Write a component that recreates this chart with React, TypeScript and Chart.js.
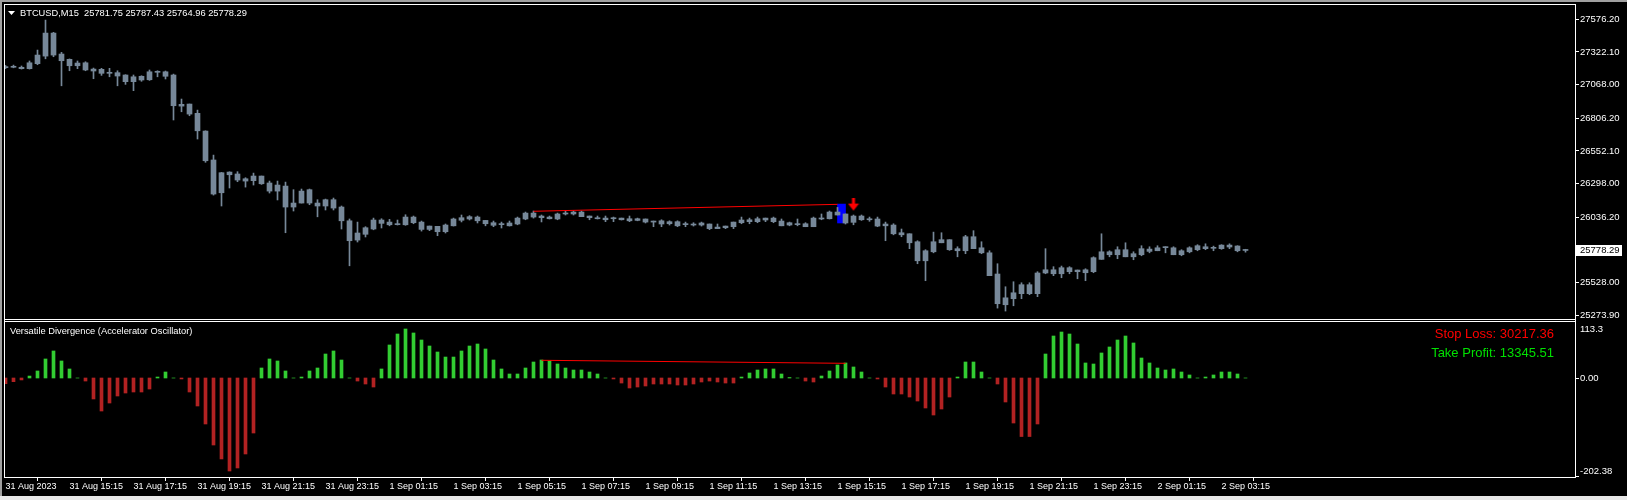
import React, { useEffect, useRef } from "react";
import { Chart, registerables } from "chart.js";

Chart.register(...registerables);

// ---------------- data ----------------
const openP = [
  27200, 27206, 27203, 27192, 27231, 27290, 27469, 27306, 27265, 27215,
  27238, 27189, 27187, 27156, 27161, 27143, 27091, 27133, 27106, 27164,
  27168, 27143, 26901, 26917, 26845, 26707, 26482, 26227, 26367, 26373,
  26336, 26321, 26357, 26303, 26240, 26279, 26116, 26147, 26251, 26147,
  26124, 26173, 26116, 26009, 25859, 25904, 25945, 26015, 25999, 25979,
  25978, 26038, 25999, 25942, 25966, 25924, 25970, 26013, 26023, 26038,
  26012, 25994, 25981, 25970, 25984, 26023, 26069, 26046, 26038, 26023,
  26062, 26062, 26077, 26046, 26030, 26030, 26030, 26030, 26025, 26025,
  26023, 26007, 26009, 26002, 26002, 25984, 25981, 25992, 25984, 25960,
  25968, 25963, 25994, 26002, 26002, 26030, 26030, 26007, 25994, 25981,
  25986, 25963, 26030, 26025, 26077, 26062, 26046, 26046, 26023, 26023,
  25984, 25976, 25916, 25908, 25846, 25698, 25768, 25838, 25862, 25792,
  25776, 25885, 25799, 25760, 25595, 25356, 25403, 25442, 25512, 25442,
  25603, 25628, 25597, 25644, 25626, 25605, 25613, 25709, 25768, 25745,
  25784, 25729, 25745, 25789, 25776, 25802, 25799, 25745, 25768, 25784,
  25807, 25797, 25792, 25820, 25813, 25781.75,
];
const highP = [
  27217, 27220, 27213, 27252, 27337, 27570, 27475, 27319, 27268, 27252,
  27246, 27197, 27195, 27195, 27176, 27145, 27143, 27137, 27182, 27176,
  27174, 27150, 26956, 26917, 26870, 26709, 26520, 26385, 26390, 26391,
  26344, 26380, 26357, 26318, 26318, 26310, 26251, 26256, 26256, 26173,
  26178, 26186, 26124, 26023, 25999, 25963, 26030, 26025, 26020, 26015,
  26056, 26046, 26007, 25968, 25966, 25984, 26030, 26054, 26049, 26046,
  26012, 26007, 25999, 26007, 26038, 26077, 26085, 26054, 26046, 26069,
  26085, 26085, 26085, 26046, 26046, 26046, 26038, 26030, 26046, 26030,
  26023, 26007, 26017, 26009, 26009, 25999, 25994, 25999, 25984, 25984,
  25968, 25999, 26038, 26030, 26038, 26030, 26038, 26023, 25999, 26023,
  25994, 26038, 26062, 26085, 26113, 26062, 26054, 26054, 26038, 26038,
  25999, 25986, 25945, 25908, 25854, 25784, 25921, 25916, 25862, 25807,
  25896, 25932, 25846, 25776, 25675, 25496, 25535, 25527, 25527, 25613,
  25792, 25652, 25657, 25652, 25626, 25636, 25729, 25908, 25776, 25807,
  25838, 25768, 25815, 25807, 25815, 25807, 25807, 25784, 25807, 25823,
  25830, 25812, 25823, 25830, 25815, 25787.43,
];
const lowP = [
  27193, 27199, 27189, 27189, 27223, 27269, 27285, 27059, 27176, 27192,
  27176, 27114, 27140, 27129, 27059, 27070, 27021, 27094, 27101, 27129,
  27112, 26793, 26857, 26826, 26645, 26464, 26209, 26124, 26264, 26313,
  26271, 26287, 26292, 26225, 26171, 25916, 26085, 26147, 26134, 26040,
  26093, 26093, 25945, 25659, 25844, 25883, 25939, 25953, 25970, 25976,
  25974, 25986, 25929, 25932, 25893, 25914, 25968, 26000, 26015, 25992,
  25970, 25963, 25953, 25968, 25978, 26017, 26030, 26000, 26023, 26017,
  26054, 26054, 26041, 26017, 26023, 26002, 26002, 26015, 26002, 26009,
  25992, 25963, 25963, 25976, 25963, 25963, 25968, 25968, 25940, 25948,
  25948, 25948, 25986, 25986, 25994, 26002, 25994, 25970, 25970, 25970,
  25963, 25963, 26017, 26023, 26054, 25984, 25978, 26012, 26005, 25963,
  25854, 25900, 25885, 25792, 25675, 25543, 25760, 25838, 25779, 25729,
  25753, 25792, 25753, 25582, 25330, 25307, 25348, 25403, 25434, 25419,
  25597, 25582, 25566, 25597, 25558, 25543, 25605, 25709, 25729, 25714,
  25729, 25706, 25737, 25760, 25776, 25760, 25745, 25737, 25760, 25776,
  25784, 25776, 25787, 25792, 25768, 25764.96,
];
const closeP = [
  27208, 27203, 27192, 27238, 27298, 27469, 27298, 27254, 27215, 27236,
  27182, 27174, 27156, 27164, 27135, 27091, 27129, 27104, 27168, 27171,
  27133, 26904, 26915, 26839, 26709, 26476, 26217, 26383, 26388, 26326,
  26318, 26357, 26297, 26240, 26287, 26116, 26147, 26240, 26147, 26124,
  26173, 26108, 26009, 25854, 25914, 25955, 26015, 25989, 25978, 25984,
  26038, 25994, 25942, 25968, 25924, 25976, 26023, 26033, 26041, 26009,
  25986, 25974, 25979, 25992, 26030, 26069, 26038, 26033, 26025, 26062,
  26069, 26077, 26041, 26033, 26025, 26017, 26025, 26017, 26009, 26012,
  25999, 25999, 25984, 25986, 25970, 25979, 25976, 25976, 25948, 25948,
  25955, 25999, 26015, 26017, 26025, 26015, 26002, 25970, 25976, 25979,
  25963, 26030, 26023, 26077, 26054, 25992, 25997, 26017, 26017, 25968,
  25970, 25908, 25900, 25838, 25698, 25776, 25846, 25862, 25784, 25776,
  25885, 25792, 25760, 25582, 25364, 25410, 25449, 25512, 25442, 25603,
  25628, 25597, 25644, 25613, 25613, 25628, 25722, 25768, 25745, 25784,
  25729, 25753, 25792, 25771, 25799, 25800, 25745, 25776, 25799, 25815,
  25792, 25795, 25820, 25805, 25776, 25778.29,
];
const oscValues = [
  -11.6, -7.5, -4, 4, 14.4, 39, 55.4, 34.9, 18.5, 0,
  -6.2, -43, -67.7, -51.3, -36.9, -30.8, -28.7, -28.7, -22.6, 2,
  12.3, 0, -2, -28.7, -57.4, -94.3, -137.4, -166, -190.7, -184.5,
  -155.8, -112.8, 20.5, 39, 34.9, 14.4, 0, 2, 14.4, 20.5,
  49.2, 55.4, 36.9, 0, -6.2, -12.3, -18.5, 18.5, 67.7, 90.2,
  100.5, 92.3, 77.9, 65.6, 53.3, 43, 43, 55.4, 65.6, 69.7,
  59.5, 36.9, 18.5, 8.2, 8.2, 20.5, 32.8, 36.9, 34.9, 28.7,
  20.5, 16.4, 16.4, 12.3, 8.2, 0, -2, -10.3, -20.5, -18.5,
  -16.4, -12.3, -12.3, -12.3, -14.4, -14.4, -12.3, -8.2, -6.2, -8.2,
  -10.3, -10.3, 2, 10.3, 16.4, 18.5, 18.5, 8.2, 1, 0,
  -6.2, -8.2, 4.1, 14.4, 26.7, 30.8, 22.6, 12.3, 0, -2,
  -18.5, -32.8, -32.8, -39, -47.2, -61.5, -75.9, -63.6, -39, 2,
  32.8, 32.8, 12.3, 0, -12.3, -49.2, -92.3, -120, -120, -94.3,
  49.2, 86.1, 94.3, 90.2, 69.7, 30.8, 28.7, 51.3, 63.6, 77.9,
  86.1, 71.8, 41, 30.8, 20.5, 16.4, 18.5, 12.3, 6.2, 0,
  2, 6.2, 12.3, 12.3, 8.2, 0,
];
const xTickIdx = [0, 8, 16, 24, 32, 40, 48, 56, 64, 72, 80, 88, 96, 104, 112, 120, 128, 136, 144, 152];
const xTickLabels = [
  "31 Aug 2023", "31 Aug 15:15", "31 Aug 17:15", "31 Aug 19:15", "31 Aug 21:15",
  "31 Aug 23:15", "1 Sep 01:15", "1 Sep 03:15", "1 Sep 05:15", "1 Sep 07:15",
  "1 Sep 09:15", "1 Sep 11:15", "1 Sep 13:15", "1 Sep 15:15", "1 Sep 17:15",
  "1 Sep 19:15", "1 Sep 21:15", "1 Sep 23:15", "2 Sep 01:15", "2 Sep 03:15",
];
const priceTicks = [27576.2, 27322.1, 27068.0, 26806.2, 26552.1, 26298.0, 26036.2, 25528.0, 25273.9];
const oscTicks = [113.3, 0, -202.38];
const oscTickLabels = ["113.3", "0.00", "-202.38"];
const lastPrice = 25778.29;
const signalBar = 104.5;
const signalBox = [25992, 26139];
const priceTrend = [{ x: 66, y: 26083 }, { x: 104, y: 26137 }];
const oscTrend = [{ x: 67, y: 36.3 }, { x: 105, y: 30.1 }];
const arrowPoint = [{ x: 106, y: 26135 }];
const titleText = "BTCUSD,M15  25781.75 25787.43 25764.96 25778.29";
const subTitle = "Versatile Divergence (Accelerator Oscillator)";
const stopLossText = "Stop Loss: 30217.36";
const takeProfitText = "Take Profit: 13345.51";

// ---------------- styling ----------------
const CANDLE = "#778899";
const GREEN = "#32cd32";
const RED = "#b22222";
const FONT = '"Liberation Sans", Arial, sans-serif';

function makeArrow(): HTMLCanvasElement {
  const c = document.createElement("canvas");
  c.width = 12;
  c.height = 14;
  const g = c.getContext("2d")!;
  g.fillStyle = "#ff0000";
  g.beginPath();
  g.moveTo(4.5, 0);
  g.lineTo(7.5, 0);
  g.lineTo(7.5, 6);
  g.lineTo(11.5, 6);
  g.lineTo(6, 13);
  g.lineTo(0.5, 6);
  g.lineTo(4.5, 6);
  g.closePath();
  g.fill();
  return c;
}

const mtPlugin = {
  id: "mtDecor",
  beforeDraw(chart: any) {
    const { ctx, width, height } = chart;
    ctx.save();
    ctx.fillStyle = "#000000";
    ctx.fillRect(0, 0, width, height);
    ctx.fillStyle = "#a0a0a0";
    ctx.fillRect(0, 0, width, 2);
    ctx.fillRect(0, 0, 2, height);
    ctx.fillStyle = "#e8e8e8";
    ctx.fillRect(0, 496, width, 4);
    ctx.restore();
  },
  afterDraw(chart: any) {
    const { ctx, chartArea: ca } = chart;
    const y = chart.scales.y;
    const y2 = chart.scales.y2;
    ctx.save();
    ctx.fillStyle = "#ffffff";
    ctx.fillRect(ca.left, ca.top, 1, ca.bottom - ca.top);
    ctx.fillRect(ca.left, ca.top, ca.right - ca.left, 1);
    ctx.fillRect(ca.left, 319, ca.right - ca.left, 1);
    ctx.fillRect(ca.left, 321, ca.right - ca.left, 1);

    // title
    ctx.beginPath();
    ctx.moveTo(8, 11);
    ctx.lineTo(15, 11);
    ctx.lineTo(11.5, 15);
    ctx.closePath();
    ctx.fill();
    ctx.font = "9.3px " + FONT;
    ctx.textBaseline = "middle";
    ctx.textAlign = "left";
    ctx.fillText(titleText, 20, 13);
    ctx.fillText(subTitle, 10, 331);

    // oscillator axis labels
    const right = ca.right;
    ctx.font = "9.5px " + FONT;
    oscTicks.forEach((v, k) => {
      const py = y2.getPixelForValue(v);
      if (k === 0) {
        ctx.textBaseline = "top";
        ctx.fillText(oscTickLabels[k], right + 5, py + 2);
      } else if (k === oscTicks.length - 1) {
        ctx.fillRect(right, Math.round(py) - 1, 4, 1);
        ctx.textBaseline = "bottom";
        ctx.fillText(oscTickLabels[k], right + 5, py - 1);
      } else {
        ctx.fillRect(right, Math.round(py), 4, 1);
        ctx.textBaseline = "middle";
        ctx.fillText(oscTickLabels[k], right + 5, py + 0.5);
      }
    });

    // current price label
    const pp = y.getPixelForValue(lastPrice);
    ctx.fillStyle = "#ffffff";
    ctx.fillRect(right + 1, Math.round(pp) - 5, 46, 11);
    ctx.fillStyle = "#000000";
    ctx.textBaseline = "middle";
    ctx.fillText(lastPrice.toFixed(2), right + 5, Math.round(pp) + 0.5);

    // SL / TP
    ctx.font = "13px " + FONT;
    ctx.textAlign = "right";
    ctx.fillStyle = "#ff0000";
    ctx.fillText(stopLossText, 1554, 334);
    ctx.fillStyle = "#00e000";
    ctx.fillText(takeProfitText, 1554, 353);
    ctx.restore();
  },
};

export default function App() {
  const ref = useRef<HTMLCanvasElement | null>(null);

  useEffect(() => {
    if (!ref.current) return;
    const idx = openP.map((_, i) => i);
    const arrowImg = makeArrow();

    const chart = new Chart(ref.current, {
      type: "bar",
      data: {
        datasets: [
          {
            type: "line",
            data: oscTrend,
            yAxisID: "y2",
            borderColor: "#ff0000",
            borderWidth: 1,
            pointRadius: 0,
            order: 1,
          } as any,
          {
            type: "line",
            data: arrowPoint,
            yAxisID: "y",
            showLine: false,
            pointStyle: arrowImg,
            pointRadius: 7,
            order: 2,
          } as any,
          {
            type: "line",
            data: priceTrend,
            yAxisID: "y",
            borderColor: "#ff0000",
            borderWidth: 1,
            pointRadius: 0,
            order: 3,
          } as any,
          {
            type: "bar",
            data: idx.map((i) => ({ x: i, y: [Math.min(openP[i], closeP[i]), Math.max(openP[i], closeP[i])] })),
            yAxisID: "y",
            backgroundColor: CANDLE,
            barThickness: 5,
            minBarLength: 1,
            grouped: false,
            order: 4,
          } as any,
          {
            type: "bar",
            data: idx.map((i) => ({ x: i, y: [lowP[i], highP[i]] })),
            yAxisID: "y",
            backgroundColor: CANDLE,
            barThickness: 1,
            grouped: false,
            order: 5,
          } as any,
          {
            type: "bar",
            data: [{ x: signalBar, y: signalBox }],
            yAxisID: "y",
            backgroundColor: "#0000ff",
            barThickness: 8,
            grouped: false,
            order: 6,
          } as any,
          {
            type: "bar",
            data: idx.map((i) => ({ x: i, y: oscValues[i] })),
            yAxisID: "y2",
            backgroundColor: oscValues.map((v) => (v >= 0 ? GREEN : RED)),
            barThickness: 3,
            grouped: false,
            order: 7,
          } as any,
        ],
      },
      options: {
        animation: false,
        responsive: false,
        maintainAspectRatio: false,
        devicePixelRatio: 1,
        events: [],
        layout: { autoPadding: false, padding: { left: 4, top: 4, right: 0, bottom: 4 } },
        plugins: { legend: { display: false }, tooltip: { enabled: false } },
        scales: {
          x: {
            type: "linear",
            min: -0.1875,
            max: 196.1875,
            offset: false,
            afterBuildTicks: (s: any) => {
              s.ticks = xTickIdx.map((v) => ({ value: v }));
            },
            afterFit: (s: any) => {
              s.height = 19;
              s.paddingLeft = 0;
              s.paddingRight = 0;
            },
            ticks: {
              autoSkip: false,
              maxRotation: 0,
              minRotation: 0,
              align: "start",
              padding: 0,
              color: "#ffffff",
              font: { family: FONT, size: 9 },
              callback: (v: any) => {
                const k = xTickIdx.indexOf(Number(v));
                return k >= 0 ? xTickLabels[k] : "";
              },
            },
            grid: {
              drawOnChartArea: false,
              drawTicks: true,
              tickLength: 4,
              color: (c: any) => (c.index === 0 ? "rgba(0,0,0,0)" : "#ffffff"),
            },
            border: { display: true, color: "#ffffff", width: 1 },
          },
          y: {
            type: "linear",
            position: "right",
            min: 24016.2,
            max: 27695.2,
            afterBuildTicks: (s: any) => {
              s.ticks = priceTicks.map((v) => ({ value: v }));
            },
            afterFit: (s: any) => {
              s.width = 52;
              s.paddingTop = 0;
              s.paddingBottom = 0;
            },
            ticks: {
              autoSkip: false,
              padding: 1,
              color: "#ffffff",
              font: { family: FONT, size: 9.5 },
              callback: (v: any) => Number(v).toFixed(2),
            },
            grid: { drawOnChartArea: false, drawTicks: true, tickLength: 4, color: "#ffffff" },
            border: { display: true, color: "#ffffff", width: 1 },
          },
          y2: {
            type: "linear",
            display: false,
            min: -202.99,
            max: 766.85,
          },
        },
      } as any,
      plugins: [mtPlugin],
    });
    return () => chart.destroy();
  }, []);

  return (
    <div style={{ position: "absolute", left: 0, top: 0, width: 1627, height: 500, background: "#000" }}>
      <canvas ref={ref} width={1627} height={500} style={{ display: "block", width: 1627, height: 500 }} />
    </div>
  );
}
